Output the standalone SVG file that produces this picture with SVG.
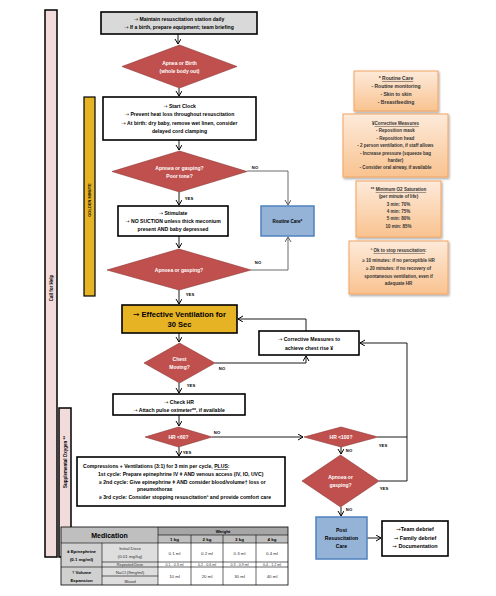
<svg xmlns="http://www.w3.org/2000/svg" width="496" height="596" viewBox="0 0 496 596">
<defs>
<marker id="arr" markerUnits="userSpaceOnUse" markerWidth="8" markerHeight="8" refX="5" refY="3" orient="auto"><path d="M0,0 L5,3 L0,6" fill="none" stroke="#000" stroke-width="1"/></marker>
<marker id="arrg" markerUnits="userSpaceOnUse" markerWidth="8" markerHeight="8" refX="5" refY="3" orient="auto"><path d="M0,0 L5,3 L0,6" fill="none" stroke="#595959" stroke-width="1"/></marker>
<linearGradient id="og" x1="0" y1="0" x2="0" y2="1"><stop offset="0" stop-color="#fdeada"/><stop offset="1" stop-color="#f9c390"/></linearGradient>
<filter id="sh" x="-10%" y="-10%" width="130%" height="130%"><feDropShadow dx="1" dy="1.5" stdDeviation="1" flood-color="#000" flood-opacity="0.35"/></filter>
</defs>
<style>
text{font-family:"Liberation Sans",Arial,sans-serif;font-weight:bold;text-anchor:middle}
.a{font-family:"DejaVu Sans",sans-serif;font-weight:normal}
.t{font-size:5.1px;fill:#000}
.w{font-size:5px;fill:#fff}
.lbl{font-size:4.2px;fill:#000}
.o{font-size:5px;fill:#333}
.os{font-size:4.5px;fill:#333}
.box{fill:#fff;stroke:#000;stroke-width:1.6}
.dia{fill:#c0504d;stroke:#8c3836;stroke-width:0.6}
.blue{fill:#95b3d7;stroke:#4f81bd;stroke-width:1.5}
.orange{fill:url(#og);stroke:#f4a460;stroke-width:1;filter:url(#sh)}
.bar{fill:#f2dcdb;stroke:#000;stroke-width:1.5}
.c{fill:none;stroke:#000;stroke-width:0.9}
.cg{fill:none;stroke:#595959;stroke-width:0.9}
.tb{font-size:4.4px;fill:#000}
.tg{font-size:4.4px;fill:#333;font-weight:normal}
</style>

<g id="bars">
<rect class="bar" x="45" y="10" width="12" height="547"/>
<text class="t" transform="translate(52.5,288) rotate(-90)" style="font-size:4.5px">Call for Help</text>
<rect x="84" y="97" width="11" height="199" fill="#e6b325" stroke="#000" stroke-width="1.2"/>
<text class="t" transform="translate(91,200) rotate(-90)" style="font-size:4px">GOLDEN MINUTE</text>
<rect class="bar" x="59" y="408" width="12" height="149"/>
<text class="t" transform="translate(66.5,462) rotate(-90)" style="font-size:4.5px">Supplemental Oxygen **</text>
</g>

<g id="connectors">
<path class="c" d="M178,34 V44" marker-end="url(#arr)"/>
<path class="c" d="M179,88 V96" marker-end="url(#arr)"/>
<path class="c" d="M179,140 V150" marker-end="url(#arr)"/>
<path class="c" d="M179,192 V205" marker-end="url(#arr)"/>
<path class="c" d="M179,236 V248" marker-end="url(#arr)"/>
<path class="c" d="M179,290 V304" marker-end="url(#arr)"/>
<path class="c" d="M179,333 V342" marker-end="url(#arr)"/>
<path class="c" d="M179,383 V393" marker-end="url(#arr)"/>
<path class="c" d="M179,415 V426" marker-end="url(#arr)"/>
<path class="c" d="M179,447 V456" marker-end="url(#arr)"/>
<path class="cg" d="M247,171 H288 V205" marker-end="url(#arrg)"/>
<path class="cg" d="M251,270 H288 V237" marker-end="url(#arrg)"/>
<path class="c" d="M215,363 H306 V356" marker-end="url(#arr)"/>
<path class="c" d="M306,331 V319 H238" marker-end="url(#arr)"/>
<path class="c" d="M212,437 H303" marker-end="url(#arr)"/>
<path class="c" d="M341,447 V454" marker-end="url(#arr)"/>
<path class="c" d="M341,507 V516" marker-end="url(#arr)"/>
<path class="c" d="M378,437 H407"/>
<path class="c" d="M379,481 H407 V343 H360" marker-end="url(#arr)"/>
<path class="c" d="M367,538 H381" marker-end="url(#arr)"/>
<text class="lbl" x="255" y="169">NO</text>
<text class="lbl" x="189" y="200">YES</text>
<text class="lbl" x="258" y="264">NO</text>
<text class="lbl" x="190" y="296">YES</text>
<text class="lbl" x="222" y="370">NO</text>
<text class="lbl" x="191" y="387">YES</text>
<text class="lbl" x="217" y="434">NO</text>
<text class="lbl" x="187" y="454">YES</text>
<text class="lbl" x="349" y="452">NO</text>
<text class="lbl" x="383" y="447">YES</text>
<text class="lbl" x="384" y="490">YES</text>
<text class="lbl" x="349" y="511">NO</text>
</g>

<g id="n-maintain">
<rect x="101" y="12" width="156" height="22" fill="#d9d9d9" stroke="#000" stroke-width="1.6"/>
<text class="t" x="179" y="21"><tspan class="a">→</tspan> Maintain resuscitation station daily</text>
<text class="t" x="179" y="29"><tspan class="a">→</tspan> If a birth, prepare equipment; team briefing</text>
</g>

<g id="n-apnea-birth">
<polygon class="dia" points="179.5,45 237,66.5 179.5,88 122,66.5"/>
<text class="w" x="179.5" y="65">Apnea or Birth</text>
<text class="w" x="179.5" y="72.5">(whole body out)</text>
</g>

<g id="n-start-clock">
<rect class="box" x="103" y="97" width="153" height="43"/>
<text class="t" x="179.5" y="108"><tspan class="a">→</tspan> Start Clock</text>
<text class="t" x="179.5" y="116"><tspan class="a">→</tspan> Prevent heat loss throughout resuscitation</text>
<text class="t" x="179.5" y="125"><tspan class="a">→</tspan> At birth: dry baby, remove wet linen, consider</text>
<text class="t" x="179.5" y="133">delayed cord clamping</text>
</g>

<g id="n-poor-tone">
<polygon class="dia" points="179.5,151 247,171.5 179.5,192 112,171.5"/>
<text class="w" x="179.5" y="170">Apnoea or gasping?</text>
<text class="w" x="179.5" y="178">Poor tone?</text>
</g>

<g id="n-stimulate">
<rect class="box" x="118" y="206" width="110" height="30"/>
<text class="t" x="173" y="215"><tspan class="a">→</tspan> Stimulate</text>
<text class="t" x="173" y="223"><tspan class="a">→</tspan> NO SUCTION unless thick meconium</text>
<text class="t" x="173" y="231">present AND baby depressed</text>
</g>

<g id="n-gasping">
<polygon class="dia" points="179,249 251,270 179,290 107,270"/>
<text class="w" x="179" y="272">Apnoea or gasping?</text>
</g>

<g id="n-routine">
<rect class="blue" x="261" y="206" width="53" height="30"/>
<text class="t" x="287.5" y="223" style="font-size:4.5px">Routine Care*</text>
</g>

<g id="n-ventilation">
<rect x="122" y="305" width="115" height="28" fill="#e6b325" stroke="#000" stroke-width="1.6"/>
<text class="t" x="179.5" y="317" style="font-size:7.6px"><tspan class="a">→</tspan> Effective Ventilation for</text>
<text class="t" x="179.5" y="327" style="font-size:7.6px">30 Sec</text>
</g>

<g id="n-corrective">
<rect class="box" x="259" y="331" width="100" height="24"/>
<text class="t" x="309" y="341"><tspan class="a">→</tspan> Corrective Measures to</text>
<text class="t" x="309" y="349.5">achieve chest rise ¥</text>
</g>

<g id="n-chest">
<polygon class="dia" points="179.5,343 215,363 179.5,383 144,363"/>
<text class="w" x="179.5" y="361">Chest</text>
<text class="w" x="179.5" y="368.5">Moving?</text>
</g>

<g id="n-check-hr">
<rect class="box" x="113" y="394" width="132" height="21"/>
<text class="t" x="179" y="404"><tspan class="a">→</tspan> Check HR</text>
<text class="t" x="179" y="412"><tspan class="a">→</tspan> Attach pulse oximeter**, if available</text>
</g>

<g id="n-hr60">
<polygon class="dia" points="178.5,427 212,437 178.5,447 145,437"/>
<text class="w" x="178.5" y="439">HR &lt;60?</text>
</g>

<g id="n-compressions">
<rect class="box" x="77" y="457" width="208" height="49"/>
<text class="t" x="83" y="468" style="text-anchor:start">Compressions + Ventilations (3:1) for 3 min per cycle, <tspan text-decoration="underline">PLUS</tspan>:</text>
<text class="t" x="98" y="476" style="text-anchor:start">1st cycle: Prepare epinephrine IV ǂ AND venous access (IV, IO, UVC)</text>
<text class="t" x="99" y="484" style="text-anchor:start">≥ 2nd cycle: Give epinephrine ǂ AND consider blood/volume† loss or</text>
<text class="t" x="137" y="491" style="text-anchor:start">pneumothorax</text>
<text class="t" x="99" y="499" style="text-anchor:start">≥ 3rd cycle: Consider stopping resuscitationª and provide comfort care</text>
</g>

<g id="n-hr100">
<polygon class="dia" points="341,427 378,437 341,447 304,437"/>
<text class="w" x="341" y="439">HR &lt;100?</text>
</g>

<g id="n-gasping2">
<polygon class="dia" points="340.5,455 379,481 340.5,507 302,481"/>
<text class="w" x="340.5" y="479">Apnoea or</text>
<text class="w" x="340.5" y="486.5">gasping?</text>
</g>

<g id="n-post">
<rect class="blue" x="316" y="517" width="51" height="42"/>
<text class="t" x="341.5" y="532">Post</text>
<text class="t" x="341.5" y="540">Resuscitation</text>
<text class="t" x="341.5" y="548">Care</text>
</g>

<g id="n-debrief">
<rect class="box" x="382" y="521" width="66" height="35"/>
<text class="t" x="415" y="531" style="font-size:5.4px"><tspan class="a">→</tspan>Team debrief</text>
<text class="t" x="415" y="539.5" style="font-size:5.4px"><tspan class="a">→</tspan> Family debrief</text>
<text class="t" x="415" y="548" style="font-size:5.4px"><tspan class="a">→</tspan> Documentation</text>
</g>

<g id="n-note-routine">
<rect class="orange" x="354" y="71" width="84" height="40"/>
<text class="o" x="396" y="80">* <tspan text-decoration="underline">Routine Care</tspan></text>
<text class="o" x="396" y="88">- Routine monitoring</text>
<text class="o" x="396" y="96">- Skin to skin</text>
<text class="o" x="396" y="104">- Breastfeeding</text>
</g>

<g id="n-note-corrective">
<rect class="orange" x="343" y="114" width="105" height="63"/>
<text class="os" x="395.5" y="125">¥<tspan text-decoration="underline">Corrective Measures</tspan></text>
<text class="os" x="395.5" y="132">- Reposition mask</text>
<text class="os" x="395.5" y="140">- Reposition head</text>
<text class="os" x="395.5" y="147">- 2 person ventilation, if staff allows</text>
<text class="os" x="395.5" y="155">- Increase pressure (squeeze bag</text>
<text class="os" x="395.5" y="162">harder)</text>
<text class="os" x="395.5" y="169">- Consider oral airway, if available</text>
</g>

<g id="n-note-o2">
<rect class="orange" x="356" y="181" width="85" height="56"/>
<text class="os" x="398.5" y="191">** <tspan text-decoration="underline">Minimum O2 Saturation</tspan></text>
<text class="os" x="398.5" y="198">(per minute of life)</text>
<text class="os" x="398.5" y="206">3 min: 70%</text>
<text class="os" x="398.5" y="213">4 min: 75%</text>
<text class="os" x="398.5" y="220">5 min: 80%</text>
<text class="os" x="398.5" y="228">10 min: 85%</text>
</g>

<g id="n-note-stop">
<rect class="orange" x="349" y="241" width="99" height="53"/>
<text class="os" x="398.5" y="252">ª <tspan text-decoration="underline">Ok to stop resuscitation</tspan>:</text>
<text class="os" x="398.5" y="262">≥ 10 minutes: if no perceptible HR</text>
<text class="os" x="398.5" y="270">≥ 20 minutes: if no recovery of</text>
<text class="os" x="398.5" y="278">spontaneous ventilation, even if</text>
<text class="os" x="398.5" y="285">adequate HR</text>
</g>

<g id="n-table">
<rect x="61" y="527" width="97" height="16" fill="#bfbfbf"/>
<rect x="158" y="527" width="130" height="8" fill="#a6a6a6"/>
<rect x="158" y="535" width="130" height="8" fill="#bfbfbf"/>
<rect x="61" y="543" width="41" height="24" fill="#d0d0d0"/>
<rect x="61" y="567" width="41" height="18" fill="#d0d0d0"/>
<rect x="102" y="543" width="56" height="42" fill="#dedede"/>
<rect x="158" y="543" width="130" height="42" fill="#fff"/>
<g fill="none" stroke="#000" stroke-width="0.6">
<rect x="61" y="527" width="227" height="58" stroke-width="0.8"/>
<path d="M158,527 V585 M191,535 V585 M223,535 V585 M256,535 V585 M102,543 V585"/>
<path d="M158,535 H288 M61,543 H288 M61,567 H288"/>
<path d="M102,562 H288 M102,576 H158"/>
</g>
<text class="tb" x="109.5" y="538" style="font-size:7px">Medication</text>
<text class="tb" x="223" y="533">Weight</text>
<text class="tb" x="174.5" y="541">1 kg</text>
<text class="tb" x="207" y="541">2 kg</text>
<text class="tb" x="239.5" y="541">3 kg</text>
<text class="tb" x="272" y="541">4 kg</text>
<text class="tb" x="81.5" y="553">ǂ Epinephrine</text>
<text class="tb" x="81.5" y="561">(0.1 mg/ml)</text>
<text class="tg" x="130" y="550">Initial Dose</text>
<text class="tg" x="130" y="558">(0.01 mg/kg)</text>
<text class="tg" x="130" y="566" style="font-size:3.8px">Repeated Dose</text>
<text class="tg" x="174.5" y="554.5">0.1 ml</text>
<text class="tg" x="207" y="554.5">0.2 ml</text>
<text class="tg" x="239.5" y="554.5">0.3 ml</text>
<text class="tg" x="272" y="554.5">0.4 ml</text>
<text class="tg" x="174.5" y="566" style="font-size:3.6px">0.1 - 0.3 ml</text>
<text class="tg" x="207" y="566" style="font-size:3.6px">0.2 - 0.6 ml</text>
<text class="tg" x="239.5" y="566" style="font-size:3.6px">0.3 - 0.9 ml</text>
<text class="tg" x="272" y="566" style="font-size:3.6px">0.4 - 1.2 ml</text>
<text class="tb" x="81.5" y="574">† Volume</text>
<text class="tb" x="81.5" y="582">Expansion</text>
<text class="tg" x="130" y="573.5">NaCl (9mg/ml)</text>
<text class="tg" x="130" y="582.5">Blood</text>
<text class="tg" x="174.5" y="577.5">10 ml</text>
<text class="tg" x="207" y="577.5">20 ml</text>
<text class="tg" x="239.5" y="577.5">30 ml</text>
<text class="tg" x="272" y="577.5">40 ml</text>
</g>
</svg>
